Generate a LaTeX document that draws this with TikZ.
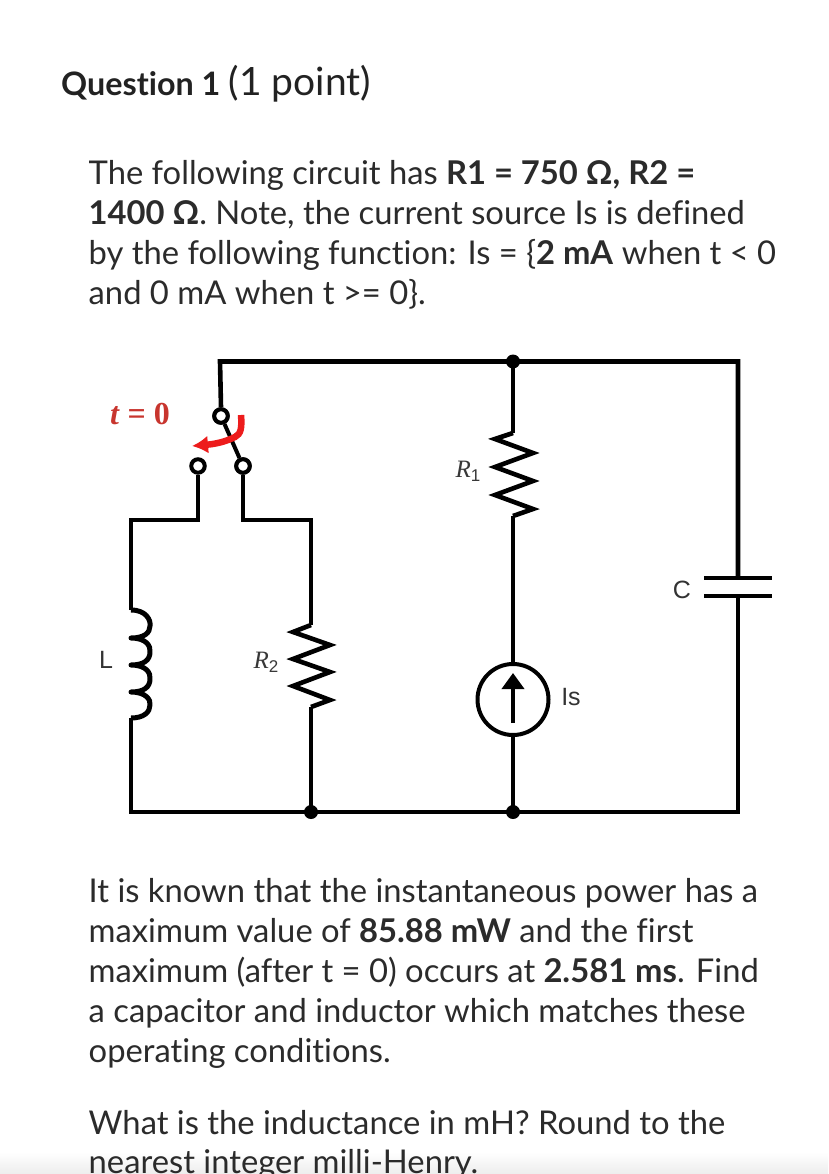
\documentclass[tikz,border=0pt]{standalone}
\usepackage{fontspec}
\setmainfont{Lato}[Ligatures={NoCommon}]
\newfontfamily\labelfont{Liberation Sans}
\newfontfamily\tzero{Liberation Serif}
\usetikzlibrary{arrows.meta}
\definecolor{bodyink}{HTML}{2B2B2B}
\definecolor{titleink}{HTML}{222222}
\definecolor{redmark}{HTML}{ED1C1C}
\definecolor{redlabel}{HTML}{C8352E}
\newcommand{\resname}[1]{{\tzero\itshape R}\raisebox{-4pt}{\labelfont\fontsize{17}{20}\selectfont #1}}
\tikzset{
  textline/.style={anchor=base west,inner sep=0pt,text=bodyink,font=\fontsize{32.75}{40}\selectfont},
  wire/.style={line width=4.6pt,line join=miter,black},
  termnode/.style={circle,draw=black,line width=4pt,fill=white,minimum size=13.5pt,inner sep=0pt},
  junction/.style={circle,fill=black,minimum size=14pt,inner sep=0pt},
  srcnode/.style={circle,draw=black,line width=4pt,fill=white,minimum size=71pt,inner sep=0pt},
  partlabel/.style={inner sep=0pt,text=black!80,font=\labelfont\fontsize{25}{28}\selectfont},
  mathlabel/.style={inner sep=0pt,text=black!78,font=\fontsize{25}{28}\selectfont},
}
\begin{document}
\begin{tikzpicture}[x=1pt,y=-1pt]
\useasboundingbox (0,0) rectangle (828,1174);
\fill[white] (0,0) rectangle (828,1174);
\fill[bottom color=black!7,top color=white,draw=none] (0,1152) rectangle (828,1174);

% text
\node[textline,text=titleink] (title) at (61,95.5) {\textbf{\fontsize{32.3}{36}\selectfont Question 1} \fontsize{39}{36}\selectfont (1 point)};
\node[textline] (p1) at (88.5,184.7) {The following circuit has \textbf{R1 = 750 Ω, R2 =}};
\node[textline] (p2) at (88.5,224.7) {\textbf{1400 Ω}. Note, the current source Is is defined};
\node[textline] (p3) at (88.5,264.7) {by the following function: Is = \{\textbf{2 mA} when t < 0};
\node[textline] (p4) at (88.5,304.7) {and 0 mA when t >= 0\}.};
\node[textline] (q1) at (88.5,902.5) {It is known that the instantaneous power has a};
\node[textline] (q2) at (88.5,942.5) {maximum value of \textbf{85.88 mW} and the first};
\node[textline] (q3) at (88.5,982.5) {maximum (after t = 0) occurs at \textbf{2.581 ms}. Find};
\node[textline] (q4) at (88.5,1022.5) {a capacitor and inductor which matches these};
\node[textline] (q5) at (88.5,1062.5) {operating conditions.};
\node[textline] (q6) at (88.5,1134.5) {What is the inductance in mH? Round to the};
\node[textline] (q7) at (88.5,1173.5) {nearest integer milli-Henry.};

% circuit anchors
\coordinate (tl) at (220,361.5);
\coordinate (tr) at (738,361.5);
\coordinate (capT) at (738,578);
\coordinate (capB) at (738,596);
\coordinate (br) at (738,812);
\coordinate (bl) at (131,812);
\coordinate (ll) at (131,520);
\coordinate (lr) at (198,520);
\coordinate (rl) at (243,520);
\coordinate (rr) at (311,520);
\coordinate (indT) at (131,610);
\coordinate (indB) at (131,718);
\coordinate (r2T) at (311,625);
\coordinate (r2B) at (311,707);
\coordinate (r1T) at (513,433);
\coordinate (r1B) at (513,516);
\coordinate (capTL) at (704,578);
\coordinate (capTR) at (772,578);
\coordinate (capBL) at (704,596);
\coordinate (capBR) at (772,596);
\coordinate (arrowTail) at (513,723);
\coordinate (arrowTip) at (513,673);

\node[junction] (jt) at (513,361.5) {};
\node[junction] (jb2) at (311,812) {};
\node[junction] (jb1) at (513,812) {};
\node[srcnode] (src) at (513,699.5) {};
\node[termnode] (swT) at (221,416) {};
\node[termnode] (swL) at (198,466) {};
\node[termnode] (swR) at (243,466) {};

% wires
\draw[wire] (swT.north) -- (tl) -- (jt.center) -- (tr) -- (capT);
\draw[wire] (capB) -- (br) -- (jb1.center) -- (jb2.center) -- (bl) -- (indB);
\draw[wire] (indT) -- (ll) -- (lr) -- (swL.south);
\draw[wire] (swR.south) -- (rl) -- (rr) -- (r2T);
\draw[wire] (r2B) -- (jb2.center);
\draw[wire] (jt.center) -- (r1T);
\draw[wire] (r1B) -- (src.north);
\draw[wire] (src.south) -- (jb1.center);
\draw[line width=4pt] (swT) -- (swR);
\node[termnode] at (swT) {};
\node[termnode] at (swR) {};

% capacitor plates
\draw[wire] (capTL) -- (capTR);
\draw[wire] (capBL) -- (capBR);

% inductor
\draw[wire,line width=5pt,line join=round] (indT)
  .. controls (146,610) and (151,620) .. (150,626)
  .. controls (150,633) and (144,638) .. (131,638)
  .. controls (146,638) and (151,646) .. (150,652)
  .. controls (150,660) and (144,665) .. (131,665)
  .. controls (146,665) and (151,673) .. (150,679)
  .. controls (150,687) and (144,692) .. (131,692)
  .. controls (146,692) and (151,700) .. (150,705)
  .. controls (150,712) and (144,718) .. (indB);

% resistors
\draw[wire] (r2T) -- ++(-18,7) -- ++(37,13) -- ++(-37,14) -- ++(37,13) -- ++(-37,14) -- ++(37,14) -- (r2B);
\draw[wire] (r1T) -- ++(-18,6) -- ++(38,14) -- ++(-38,14) -- ++(38,14) -- ++(-38,14) -- ++(38,14) -- (r1B);

% source arrow
\draw[line width=3.8pt,-{Triangle[length=16pt,width=22pt]}] (arrowTail) -- (arrowTip);

% switch arrow
\coordinate (swA) at (241,415);
\coordinate (swB) at (192,446);
\draw[redmark,line width=6.5pt,-{Latex[length=16pt,width=18pt]}] (swA) .. controls (242,428) and (241,434) .. (235,437) .. controls (225,442) and (215,444) .. (swB);

% labels
\node[inner sep=0pt,text=redlabel,font=\tzero\fontsize{32}{34}\selectfont\bfseries] (t0) at (140,414) {\textit{t} = 0};
\node[partlabel] (lL) at (106,660) {L};
\node[partlabel] (lC) at (682,590) {C};
\node[partlabel] (lIs) at (571,697) {Is};
\node[mathlabel] (lR1) at (468,471) {\resname{1}};
\node[mathlabel] (lR2) at (266,662) {\resname{2}};
\end{tikzpicture}
\end{document}
